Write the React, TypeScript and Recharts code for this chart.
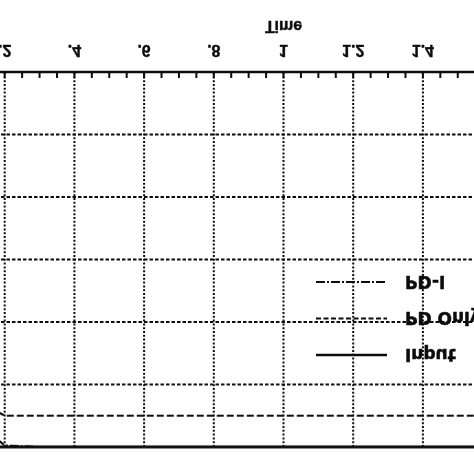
import { LineChart, Line, XAxis, YAxis, CartesianGrid, Legend, Label } from "recharts";

// step response, time axis in seconds
const times = [0, 0.05, 0.1, 0.15, 0.2, 0.3, 0.4, 0.5, 0.6, 0.7, 0.8, 0.9, 1.0, 1.2, 1.4, 1.6, 1.8, 2.0];
const inputValues = [1, 1, 1, 1, 1, 1, 1, 1, 1, 1, 1, 1, 1, 1, 1, 1, 1, 1];
const pdOnlyValues = [0, 0.42, 0.74, 0.87, 0.9, 0.9, 0.9, 0.9, 0.9, 0.9, 0.9, 0.9, 0.9, 0.9, 0.9, 0.9, 0.9, 0.9];
const pdIValues = [0, 0.48, 0.8, 0.95, 0.995, 1, 1, 1, 1, 1, 1, 1, 1, 1, 1, 1, 1, 1];

const majorTicks = [0, 0.2, 0.4, 0.6, 0.8, 1, 1.2, 1.4, 1.6, 1.8, 2];
const minorTicks = [
  0, 0.05, 0.1, 0.15, 0.2, 0.25, 0.3, 0.35, 0.4, 0.45, 0.5, 0.55, 0.6, 0.65, 0.7, 0.75, 0.8,
  0.85, 0.9, 0.95, 1, 1.05, 1.1, 1.15, 1.2, 1.25, 1.3, 1.35, 1.4, 1.45, 1.5, 1.55, 1.6, 1.65,
  1.7, 1.75, 1.8, 1.85, 1.9, 1.95, 2,
];
const yTicks = [-0.2, 0, 0.2, 0.4, 0.6, 0.8, 1];

const legendRows = [
  { name: "Input", dash: undefined as string | undefined, width: 2.6 },
  { name: "PD Only", dash: "5 2.5", width: 2 },
  { name: "PD-I", dash: "9 2 2 2", width: 2 },
];

const data = times.map((t, i) => ({
  t,
  input: inputValues[i],
  pdOnly: pdOnlyValues[i],
  pdI: pdIValues[i],
}));

const INK = "#0c0c0c";

const fmt = (v: number) => {
  const s = String(Math.round(v * 100) / 100);
  return s.startsWith("0.") ? s.slice(1) : s;
};

function TimeTick(props: any) {
  const { x, y, payload } = props;
  const v = payload.value as number;
  const major = Math.abs(v * 5 - Math.round(v * 5)) < 1e-6;
  return (
    <g>
      <line x1={x} x2={x} y1={y} y2={y - 6} stroke={INK} strokeWidth={2} />
      {major && (
        <text
          x={x}
          y={y + 27}
          textAnchor="middle"
          fill={INK}
          stroke={INK}
          strokeWidth={0.4}
          style={{ fontFamily: "Liberation Sans", fontWeight: 700, fontSize: 16 }}
        >
          {fmt(v)}
        </text>
      )}
    </g>
  );
}

function renderLegend() {
  return (
    <svg width={170} height={100} style={{ display: "block" }}>
      {legendRows.map((r, i) => {
        const cy = 10 + i * 36.5;
        return (
          <g key={r.name}>
            <line x1={0} x2={71} y1={cy} y2={cy} stroke={INK} strokeWidth={r.width} strokeDasharray={r.dash} />
            <text
              x={89}
              y={cy + 6}
              fill={INK}
              stroke={INK}
              strokeWidth={0.5}
              style={{ fontFamily: "DejaVu Sans", fontWeight: 700, fontSize: 17 }}
            >
              {r.name}
            </text>
          </g>
        );
      })}
    </svg>
  );
}

export default function App() {
  return (
    <div
      style={{
        position: "fixed",
        left: 0,
        top: 0,
        width: 474,
        height: 474,
        overflow: "hidden",
        background: "#fff",
        transform: "scaleY(-1)",
      }}
    >
      <div style={{ position: "absolute", left: -65.5, top: 17 }}>
        <LineChart width={697} height={445} data={data} margin={{ top: 10, right: 0, bottom: 0, left: 0 }}>
          <CartesianGrid vertical={false} stroke={INK} strokeWidth={1.8} strokeDasharray="3.5 2" />
          <CartesianGrid horizontal={false} xAxisId="grid" stroke={INK} strokeWidth={2} strokeDasharray="2 1.8" />
          <XAxis
            dataKey="t"
            type="number"
            domain={[0, 2]}
            ticks={minorTicks}
            interval={0}
            tick={(p: any) => <TimeTick {...p} />}
            tickSize={0}
            tickMargin={0}
            tickLine={false}
            axisLine={{ stroke: INK, strokeWidth: 2.5 }}
            height={60}
          >
            <Label
              value="Time"
              position="insideBottom"
              offset={9}
              stroke={INK}
              strokeWidth={0.4}
              style={{ fontFamily: "Liberation Sans", fontWeight: 700, fontSize: 16, fill: INK }}
            />
          </XAxis>
          <XAxis xAxisId="grid" dataKey="t" type="number" domain={[0, 2]} ticks={majorTicks} hide />
          <YAxis type="number" domain={[-0.2, 1]} ticks={yTicks} hide />
          <Line dataKey="pdI" name="PD-I" stroke={INK} strokeWidth={2} strokeDasharray="9 2 2 2" dot={false} isAnimationActive={false} />
          <Line dataKey="pdOnly" name="PD Only" stroke={INK} strokeWidth={2.2} strokeDasharray="7 3" dot={false} isAnimationActive={false} />
          <Line dataKey="input" name="Input" stroke={INK} strokeWidth={3} dot={false} isAnimationActive={false} />
          <Legend
            layout="vertical"
            align="center"
            verticalAlign="middle"
            content={renderLegend}
            wrapperStyle={{ left: 381, top: 92, width: 170, height: 100 }}
          />
        </LineChart>
      </div>
    </div>
  );
}
